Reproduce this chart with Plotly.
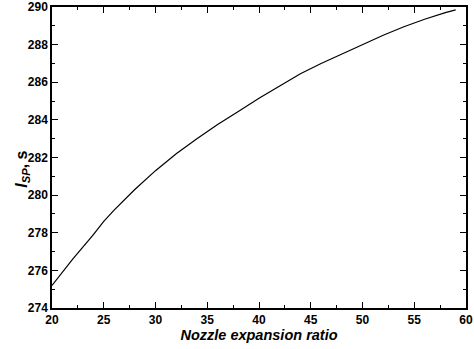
import plotly.graph_objects as go

expansion_ratio = [20, 22, 24, 25, 26, 28, 30, 32, 34, 36, 38, 40, 42, 44, 46, 48, 50, 52, 54, 56, 58, 59]
isp_s = [275.2, 276.6, 277.9, 278.6, 279.2, 280.3, 281.3, 282.2, 283.0, 283.75, 284.45, 285.15,
         285.8, 286.45, 287.0, 287.5, 288.0, 288.5, 288.95, 289.35, 289.7, 289.85]

x_ticks = [20, 25, 30, 35, 40, 45, 50, 55, 60]
y_ticks = [274, 276, 278, 280, 282, 284, 286, 288, 290]

fig = go.Figure()
fig.add_trace(go.Scatter(x=expansion_ratio, y=isp_s, mode="lines",
                         line=dict(color="black", width=1.2), showlegend=False))

font_family = "Liberation Sans, Arial, sans-serif"
axis_common = dict(
    showgrid=False, zeroline=False, showline=True, linecolor="black", linewidth=1.5,
    mirror="ticks", ticks="inside", ticklen=6, tickwidth=1.3, tickcolor="black",
    automargin=False,
    tickfont=dict(family=font_family, size=12, color="black", weight="bold"),
)

fig.update_xaxes(range=[20, 60], tickvals=x_ticks, ticktext=[str(v) for v in x_ticks],
                 minor=dict(ticks="inside", dtick=2.5, tick0=20, ticklen=3, tickwidth=1, tickcolor="black"),
                 title=dict(text="<b><i>Nozzle expansion ratio</i></b>", standoff=2,
                            font=dict(family=font_family, size=14.5, color="black")),
                 **axis_common)
fig.update_yaxes(range=[274, 290], tickvals=y_ticks, ticktext=[str(v) for v in y_ticks],
                 minor=dict(ticks="inside", dtick=1, tick0=274, ticklen=3, tickwidth=1, tickcolor="black"),
                 **axis_common)

fig.add_annotation(text="<b><i>I</i><sub><i>SP</i></sub>, s</b>", xref="paper", yref="paper",
                   x=-0.072, y=0.46, xanchor="center", yanchor="middle", textangle=-90,
                   showarrow=False, font=dict(family=font_family, size=16, color="black"))

fig.update_layout(width=474, height=349, margin=dict(l=52, r=8, t=7, b=41),
                  plot_bgcolor="white", paper_bgcolor="white")

fig.write_html("out.html")
